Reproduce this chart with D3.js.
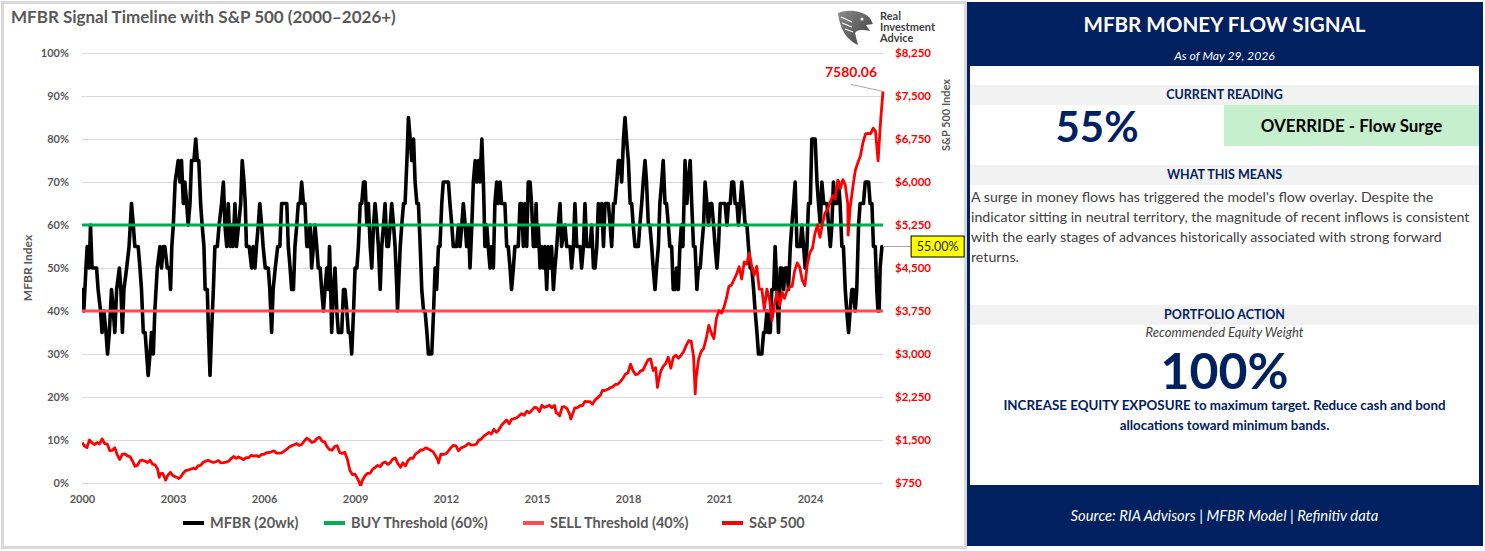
<!DOCTYPE html>
<html>
<head>
<meta charset="utf-8">
<script src="https://cdn.jsdelivr.net/npm/d3@7"></script>
<style>
  body { margin: 0; background: #fff; }
  svg { display: block; font-family: Lato, "Open Sans", sans-serif; }
</style>
</head>
<body>
<script>
// ---- data ----
const xTickYears = [2000, 2003, 2006, 2009, 2012, 2015, 2018, 2021, 2024];
const leftTicks = [0, 10, 20, 30, 40, 50, 60, 70, 80, 90, 100];
const rightTicks = [750, 1500, 2250, 3000, 3750, 4500, 5250, 6000, 6750, 7500, 8250];
const buyLevel = 60;
const sellLevel = 40;
const asOfDate = "2026-05-29";

// MFBR 20wk reading, [decimal year, %]
const mfbrPoints = [
  [2000.00,45],[2000.02,45],[2000.06,40],[2000.13,50],[2000.17,55],[2000.24,50],[2000.28,60],[2000.33,50],
  [2000.48,50],[2000.53,45],[2000.61,40],[2000.66,35],[2000.72,40],[2000.79,35],[2000.84,30],[2000.90,35],
  [2000.97,45],[2001.03,40],[2001.08,35],[2001.14,45],[2001.23,50],[2001.28,45],[2001.33,35],[2001.38,45],
  [2001.47,50],[2001.55,55],[2001.63,65],[2001.69,60],[2001.74,55],[2001.85,55],[2001.91,50],[2001.96,45],
  [2002.02,35],[2002.08,35],[2002.13,30],[2002.18,25],[2002.24,30],[2002.29,35],[2002.35,30],[2002.40,40],
  [2002.48,50],[2002.57,55],[2002.62,50],[2002.68,55],[2002.73,55],[2002.81,50],[2002.88,50],[2002.92,45],
  [2002.96,55],[2003.01,60],[2003.07,70],[2003.17,75],[2003.23,70],[2003.28,75],[2003.34,65],[2003.39,70],
  [2003.45,65],[2003.50,60],[2003.56,65],[2003.61,75],[2003.69,75],[2003.75,80],[2003.80,75],[2003.85,75],
  [2003.91,65],[2003.96,60],[2004.02,55],[2004.06,45],[2004.13,45],[2004.17,35],[2004.22,25],[2004.27,35],
  [2004.33,45],[2004.38,55],[2004.46,55],[2004.52,60],[2004.60,65],[2004.66,70],[2004.71,60],[2004.77,55],
  [2004.82,65],[2004.88,55],[2004.93,60],[2004.98,55],[2005.04,65],[2005.09,55],[2005.16,60],[2005.23,65],
  [2005.28,75],[2005.34,70],[2005.38,65],[2005.42,55],[2005.51,55],[2005.59,50],[2005.64,55],[2005.70,50],
  [2005.75,55],[2005.81,60],[2005.86,65],[2005.92,60],[2005.97,55],[2006.04,50],[2006.14,50],[2006.19,45],
  [2006.25,35],[2006.30,45],[2006.37,50],[2006.45,55],[2006.52,55],[2006.58,65],[2006.75,65],[2006.80,55],
  [2006.86,50],[2006.91,45],[2006.97,45],[2007.02,55],[2007.08,60],[2007.13,65],[2007.19,65],[2007.24,70],
  [2007.30,65],[2007.35,65],[2007.41,55],[2007.46,55],[2007.52,60],[2007.57,50],[2007.63,55],[2007.68,60],
  [2007.74,55],[2007.79,50],[2007.85,50],[2007.90,45],[2007.96,40],[2008.01,45],[2008.07,50],[2008.12,45],
  [2008.16,55],[2008.20,45],[2008.23,35],[2008.29,45],[2008.34,50],[2008.40,40],[2008.45,35],[2008.56,35],
  [2008.62,45],[2008.67,45],[2008.73,40],[2008.78,35],[2008.84,35],[2008.89,30],[2008.95,40],[2009.00,50],
  [2009.06,50],[2009.11,55],[2009.17,65],[2009.22,65],[2009.28,70],[2009.33,70],[2009.39,60],[2009.44,65],
  [2009.50,55],[2009.55,50],[2009.61,60],[2009.66,65],[2009.72,60],[2009.77,55],[2009.83,45],[2009.88,55],
  [2009.94,60],[2009.99,65],[2010.05,55],[2010.10,55],[2010.16,60],[2010.21,65],[2010.27,60],[2010.32,55],
  [2010.38,45],[2010.40,40],[2010.43,45],[2010.49,55],[2010.54,60],[2010.60,65],[2010.65,65],[2010.71,75],
  [2010.76,85],[2010.82,80],[2010.87,75],[2010.93,80],[2010.98,70],[2011.04,65],[2011.09,65],[2011.15,55],
  [2011.20,45],[2011.26,40],[2011.31,40],[2011.37,35],[2011.42,30],[2011.53,30],[2011.59,40],[2011.64,50],
  [2011.69,45],[2011.75,55],[2011.80,55],[2011.86,65],[2011.91,70],[2012.08,70],[2012.13,65],[2012.19,60],
  [2012.24,55],[2012.35,55],[2012.41,60],[2012.46,55],[2012.52,60],[2012.57,65],[2012.63,60],[2012.68,55],
  [2012.74,60],[2012.79,50],[2012.85,60],[2012.90,70],[2012.96,75],[2013.01,70],[2013.07,75],[2013.12,70],
  [2013.18,80],[2013.23,70],[2013.25,65],[2013.28,55],[2013.34,60],[2013.39,55],[2013.45,50],[2013.50,55],
  [2013.56,50],[2013.61,65],[2013.67,70],[2013.72,65],[2013.78,70],[2013.83,65],[2013.94,65],[2014.00,55],
  [2014.05,55],[2014.11,50],[2014.16,45],[2014.22,50],[2014.27,55],[2014.38,55],[2014.44,65],[2014.49,65],
  [2014.55,55],[2014.60,65],[2014.66,55],[2014.71,70],[2014.77,70],[2014.82,65],[2014.88,55],[2014.93,55],
  [2014.97,65],[2015.01,55],[2015.04,60],[2015.10,50],[2015.15,55],[2015.21,50],[2015.26,55],[2015.32,45],
  [2015.37,55],[2015.43,50],[2015.48,55],[2015.54,45],[2015.59,50],[2015.65,55],[2015.70,60],[2015.76,65],
  [2015.81,55],[2015.92,60],[2015.98,55],[2016.09,55],[2016.14,50],[2016.20,55],[2016.25,65],[2016.31,55],
  [2016.42,55],[2016.47,50],[2016.53,55],[2016.58,65],[2016.64,55],[2016.75,55],[2016.80,60],[2016.86,50],
  [2016.91,50],[2016.97,55],[2017.02,65],[2017.08,60],[2017.13,65],[2017.19,55],[2017.24,65],[2017.35,65],
  [2017.41,60],[2017.46,55],[2017.52,65],[2017.57,65],[2017.63,70],[2017.68,75],[2017.74,75],[2017.79,70],
  [2017.85,80],[2017.90,85],[2017.95,80],[2018.01,75],[2018.07,65],[2018.12,65],[2018.17,60],[2018.23,55],
  [2018.34,55],[2018.39,60],[2018.45,65],[2018.50,70],[2018.56,75],[2018.61,70],[2018.67,60],[2018.72,60],
  [2018.78,55],[2018.83,50],[2018.89,45],[2018.94,50],[2019.00,55],[2019.05,65],[2019.11,70],[2019.16,75],
  [2019.22,65],[2019.27,65],[2019.33,60],[2019.38,55],[2019.44,55],[2019.49,45],[2019.55,45],[2019.60,50],
  [2019.66,45],[2019.71,55],[2019.76,60],[2019.81,55],[2019.88,75],[2019.94,65],[2019.99,70],[2020.05,75],
  [2020.10,65],[2020.16,55],[2020.21,55],[2020.27,45],[2020.32,50],[2020.38,50],[2020.43,55],[2020.49,60],
  [2020.54,70],[2020.60,65],[2020.65,60],[2020.71,65],[2020.76,65],[2020.82,60],[2020.87,55],[2020.93,50],
  [2020.98,55],[2021.04,65],[2021.20,65],[2021.26,60],[2021.31,65],[2021.37,65],[2021.42,70],[2021.48,70],
  [2021.53,65],[2021.59,65],[2021.64,60],[2021.70,65],[2021.75,70],[2021.81,65],[2021.86,60],[2021.92,60],
  [2021.97,55],[2022.03,50],[2022.08,50],[2022.14,45],[2022.19,40],[2022.25,35],[2022.30,30],[2022.41,30],
  [2022.47,35],[2022.52,35],[2022.58,40],[2022.63,35],[2022.69,35],[2022.74,45],[2022.80,45],[2022.85,55],
  [2022.91,45],[2022.96,35],[2023.02,50],[2023.07,50],[2023.13,45],[2023.18,50],[2023.24,50],[2023.29,45],
  [2023.35,55],[2023.40,60],[2023.46,65],[2023.51,70],[2023.57,55],[2023.68,55],[2023.73,60],[2023.79,55],
  [2023.84,50],[2023.90,55],[2023.95,65],[2024.01,65],[2024.06,80],[2024.17,80],[2024.23,70],[2024.28,65],
  [2024.34,60],[2024.39,70],[2024.45,65],[2024.56,65],[2024.61,60],[2024.67,55],[2024.72,60],[2024.77,70],
  [2024.83,65],[2024.88,65],[2024.94,70],[2024.99,65],[2025.05,55],[2025.10,55],[2025.16,45],[2025.21,40],
  [2025.27,35],[2025.32,40],[2025.38,45],[2025.43,45],[2025.49,40],[2025.54,45],[2025.60,60],[2025.65,65],
  [2025.76,65],[2025.82,70],[2025.93,70],[2025.98,65],[2026.04,65],[2026.09,55],[2026.15,55],[2026.20,45],
  [2026.24,40],[2026.28,40],[2026.31,50],[2026.37,55],[2026.41,55]
];

// S&P 500 month-end closes, Jan 2000 onward
const spxMonthly = [
  1394,1366,1499,1452,1421,1455,1431,1518,1437,1429,1315,1320,
  1366,1240,1160,1249,1256,1224,1211,1134,1041,1060,1139,1148,
  1130,1107,1147,1077,1067,990,912,916,815,886,936,880,
  856,841,848,917,964,975,990,1008,996,1051,1058,1112,
  1131,1145,1126,1107,1121,1141,1102,1104,1115,1130,1174,1212,
  1181,1204,1181,1157,1192,1191,1234,1220,1229,1207,1249,1248,
  1280,1281,1295,1311,1270,1270,1277,1304,1336,1378,1401,1418,
  1438,1407,1421,1482,1531,1503,1455,1474,1527,1549,1481,1468,
  1379,1331,1323,1386,1400,1280,1267,1283,1166,969,896,903,
  826,735,798,873,919,919,987,1021,1057,1036,1096,1115,
  1074,1104,1169,1187,1089,1031,1102,1049,1141,1183,1181,1258,
  1286,1327,1326,1364,1345,1321,1292,1219,1131,1253,1247,1258,
  1312,1366,1408,1398,1310,1362,1379,1407,1441,1412,1416,1426,
  1498,1515,1569,1598,1631,1606,1686,1633,1682,1757,1806,1848,
  1783,1859,1872,1884,1924,1960,1931,2003,1972,2018,2068,2059,
  1995,2105,2068,2086,2107,2063,2104,1972,1920,2079,2080,2044,
  1940,1932,2060,2065,2097,2099,2174,2171,2168,2126,2199,2239,
  2279,2364,2363,2384,2412,2423,2470,2472,2519,2575,2648,2674,
  2824,2714,2641,2648,2705,2718,2816,2902,2914,2711,2760,2507,
  2704,2784,2834,2946,2752,2942,2980,2926,2977,3038,3141,3231,
  3226,2954,2585,2912,3044,3100,3271,3500,3363,3270,3622,3756,
  3714,3811,3973,4181,4204,4298,4395,4523,4308,4605,4567,4766,
  4516,4374,4530,4132,4132,3785,4130,3955,3586,3872,4080,3840,
  4077,3970,4109,4169,4180,4450,4589,4508,4288,4194,4568,4770,
  4846,5096,5254,5036,5278,5460,5522,5648,5762,5705,6032,5882,
  6041,5955,5612,5569,5912,6205,6339,6460,6688,6840,6849,6845,
  6940,6880,6370,7060,7580.06
];

// weekly closes at notable lows
const spxWeeklyLows = [
  ["2000-01-03", 1455], ["2002-07-19", 847], ["2002-10-04", 800], ["2003-03-07", 829],
  ["2009-03-06", 683], ["2010-07-02", 1022], ["2011-10-03", 1099], ["2015-08-21", 1971],
  ["2016-02-12", 1865], ["2018-12-21", 2417], ["2020-03-20", 2305], ["2022-09-30", 3586],
  ["2025-04-04", 5074]
];

// ---- helpers ----
const parse = d3.timeParse("%Y-%m-%d");
const yearToDate = t => {
  const y = Math.floor(t);
  const a = new Date(y, 0, 1), b = new Date(y + 1, 0, 1);
  return new Date(+a + (t - y) * (b - a));
};
const endDate = parse(asOfDate);

const mfbr = mfbrPoints.map(d => ({ date: yearToDate(d[0]), value: d[1] }));
const spx = spxMonthly.map((v, i) => {
  const dt = d3.timeDay.offset(d3.timeMonth.offset(new Date(2000, 0, 1), i + 1), -1);
  return { date: dt > endDate ? endDate : dt, value: v };
}).concat(spxWeeklyLows.map(d => ({ date: parse(d[0]), value: d[1] })))
  .sort((a, b) => a.date - b.date);

// ---- layout ----
const W = 1485, H = 551;
const plot = { left: 82, right: 883, top: 53, bottom: 483 };
const navy = "#002060", grey = "#595959";

const svg = d3.select("body").append("svg").attr("width", W).attr("height", H);

// left frame
svg.append("rect").attr("x", 2.5).attr("y", 2.5).attr("width", 963).attr("height", 545)
  .attr("fill", "#fff").attr("stroke", "#d9d9d9").attr("stroke-width", 3);

const x = d3.scaleTime().domain([new Date(2000, 0, 1), endDate]).range([plot.left, plot.right]);
const yL = d3.scaleLinear().domain([0, 100]).range([plot.bottom, plot.top]);
const yR = d3.scaleLinear().domain([750, 8250]).range([plot.bottom, plot.top]);

// gridlines
svg.append("g").attr("transform", `translate(${plot.left},0)`)
  .call(d3.axisLeft(yL).tickValues(leftTicks).tickSize(-(plot.right - plot.left)).tickFormat(""))
  .call(g => g.select(".domain").remove())
  .call(g => g.selectAll("line").attr("stroke", "#d9d9d9"));

// left axis labels
svg.append("g").attr("transform", `translate(${plot.left},0)`)
  .call(d3.axisLeft(yL).tickValues(leftTicks).tickSize(0).tickPadding(13).tickFormat(d => d + "%"))
  .call(g => g.select(".domain").remove())
  .call(g => g.selectAll("text").attr("fill", grey).attr("font-size", 11).attr("font-weight", "bold")
    .attr("font-family", "Lato, sans-serif"));

// right axis labels
svg.append("g").attr("transform", `translate(${plot.right},0)`)
  .call(d3.axisRight(yR).tickValues(rightTicks).tickSize(0).tickPadding(12)
    .tickFormat(d => "$" + d3.format(",")(d)))
  .call(g => g.select(".domain").remove())
  .call(g => g.selectAll("text").attr("fill", "#ff0000").attr("font-size", 11.5).attr("font-weight", "bold")
    .attr("font-family", "Lato, sans-serif"));

// x axis labels
svg.append("g").attr("transform", `translate(0,${plot.bottom})`)
  .call(d3.axisBottom(x).tickValues(xTickYears.map(y => new Date(y, 0, 1))).tickSize(0).tickPadding(12)
    .tickFormat(d3.timeFormat("%Y")))
  .call(g => g.select(".domain").remove())
  .call(g => g.selectAll("text").attr("fill", grey).attr("font-size", 11).attr("font-weight", "bold")
    .attr("font-family", "Lato, sans-serif"));

// axis titles
svg.append("text").attr("transform", "translate(32,268) rotate(-90)").attr("text-anchor", "middle")
  .attr("fill", grey).attr("font-size", 12).attr("font-weight", "bold").text("MFBR Index");
svg.append("text").attr("transform", "translate(950,115) rotate(-90)").attr("text-anchor", "middle")
  .attr("fill", grey).attr("font-size", 11).attr("font-weight", "bold").text("S&P 500 Index");

// title
svg.append("text").attr("x", 11).attr("y", 23).attr("fill", grey).attr("font-size", 17)
  .attr("font-weight", "bold").text("MFBR Signal Timeline with S&P 500 (2000–2026+)");

// logo
const grad = svg.append("defs").append("linearGradient").attr("id", "eagle")
  .attr("x1", 0).attr("y1", 0).attr("x2", 1).attr("y2", 1);
grad.append("stop").attr("offset", "0%").attr("stop-color", "#8c8c8c");
grad.append("stop").attr("offset", "100%").attr("stop-color", "#3a3a3a");
svg.append("path")
  .attr("d", "M838,13 C848,9 862,10 870,18 L873,24 L866,25 L870,31 C863,30 858,29 855,33 L858,45 C847,40 840,30 838,13 Z")
  .attr("fill", "url(#eagle)");
svg.append("path").attr("d", "M841,17 L852,22 M842,23 L852,27 M845,29 L853,32")
  .attr("stroke", "#fff").attr("stroke-width", 1.2);
svg.append("circle").attr("cx", 862).attr("cy", 19).attr("r", 1.5).attr("fill", "#fff");
["Real", "Investment", "Advice"].forEach((t, i) => {
  svg.append("text").attr("x", 880).attr("y", 20 + i * 11).attr("fill", "#404040")
    .attr("font-size", 11).attr("font-weight", "bold").text(t);
});

// series
const clip = svg.append("clipPath").attr("id", "plotclip");
clip.append("rect").attr("x", plot.left).attr("y", plot.top - 10).attr("width", plot.right - plot.left + 2)
  .attr("height", plot.bottom - plot.top + 13);

const lineL = d3.line().x(d => x(d.date)).y(d => yL(d.value));
const lineR = d3.line().x(d => x(d.date)).y(d => yR(d.value));

const series = svg.append("g").attr("clip-path", "url(#plotclip)");
series.append("path").datum(mfbr).attr("d", lineL).attr("fill", "none")
  .attr("stroke", "#000").attr("stroke-width", 3.6).attr("stroke-linejoin", "round");

series.append("line").attr("x1", plot.left).attr("x2", plot.right)
  .attr("y1", yL(buyLevel)).attr("y2", yL(buyLevel)).attr("stroke", "#00b050").attr("stroke-width", 3);
series.append("line").attr("x1", plot.left).attr("x2", plot.right)
  .attr("y1", yL(sellLevel)).attr("y2", yL(sellLevel)).attr("stroke", "#ff4b4b").attr("stroke-width", 3);

series.append("path").datum(spx).attr("d", lineR).attr("fill", "none")
  .attr("stroke", "#ff0000").attr("stroke-width", 2.8).attr("stroke-linejoin", "round");

// last value labels
const lastS = spx[spx.length - 1];
const sx = x(lastS.date), sy = yR(lastS.value);
svg.append("line").attr("x1", sx - 32).attr("y1", sy - 7).attr("x2", sx).attr("y2", sy)
  .attr("stroke", "#a6a6a6").attr("stroke-width", 1);
svg.append("text").attr("x", sx - 32).attr("y", sy - 14.5).attr("text-anchor", "middle")
  .attr("fill", "#ff0000").attr("font-size", 14).attr("font-weight", "bold").text(lastS.value.toFixed(2));

const lastM = mfbr[mfbr.length - 1];
const mx = x(lastM.date), my = yL(lastM.value);
svg.append("line").attr("x1", mx).attr("y1", my).attr("x2", mx + 28).attr("y2", my)
  .attr("stroke", "#a6a6a6").attr("stroke-width", 1);
svg.append("rect").attr("x", mx + 28).attr("y", my - 10.5).attr("width", 53).attr("height", 21)
  .attr("fill", "#ffff00").attr("stroke", "#000").attr("stroke-width", 1);
svg.append("text").attr("x", mx + 54.5).attr("y", my).attr("dy", "0.35em").attr("text-anchor", "middle")
  .attr("fill", "#262626").attr("font-size", 12.5).text(d3.format(".2f")(lastM.value) + "%");

// legend
const legendItems = [
  { label: "MFBR (20wk)", color: "#000", x: 183 },
  { label: "BUY Threshold (60%)", color: "#00b050", x: 324 },
  { label: "SELL Threshold (40%)", color: "#ff4b4b", x: 523 },
  { label: "S&P 500", color: "#ff0000", x: 722 }
];
const lg = svg.append("g").selectAll("g").data(legendItems).join("g")
  .attr("transform", d => `translate(${d.x},523)`);
lg.append("line").attr("x1", 0).attr("x2", 21).attr("stroke", d => d.color).attr("stroke-width", 4);
lg.append("text").attr("x", 27).attr("dy", "0.35em").attr("fill", grey).attr("font-size", 14.5)
  .attr("font-weight", "bold").text(d => d.label);

// ---- right panel ----
const P = { x0: 970, x1: 1479 };
const cx = (P.x0 + P.x1) / 2;
svg.append("rect").attr("x", 967).attr("y", 2).attr("width", 516).attr("height", 544).attr("fill", navy);
svg.append("rect").attr("x", P.x0).attr("y", 66).attr("width", P.x1 - P.x0).attr("height", 419).attr("fill", "#fff");

const bands = [
  { y: 85, label: "CURRENT READING" },
  { y: 165, label: "WHAT THIS MEANS" },
  { y: 305, label: "PORTFOLIO ACTION" }
];
bands.forEach(b => {
  svg.append("rect").attr("x", P.x0).attr("y", b.y).attr("width", P.x1 - P.x0).attr("height", 20).attr("fill", "#f2f2f2");
  svg.append("text").attr("x", cx).attr("y", b.y + 10).attr("dy", "0.35em").attr("text-anchor", "middle")
    .attr("fill", navy).attr("font-size", 12.5).attr("font-weight", "bold").text(b.label);
});

svg.append("text").attr("x", cx).attr("y", 25).attr("dy", "0.35em").attr("text-anchor", "middle")
  .attr("fill", "#fff").attr("font-size", 20.6).attr("font-weight", "bold").text("MFBR MONEY FLOW SIGNAL");
svg.append("text").attr("x", cx).attr("y", 56).attr("dy", "0.35em").attr("text-anchor", "middle")
  .attr("fill", "#fff").attr("font-size", 12.2).attr("font-style", "italic").text("As of May 29, 2026");

svg.append("text").attr("x", 1097).attr("y", 127).attr("dy", "0.35em").attr("text-anchor", "middle")
  .attr("fill", navy).attr("font-size", 42).attr("font-weight", "bold").text(lastM.value + "%");
svg.append("rect").attr("x", 1224).attr("y", 105).attr("width", P.x1 - 1224).attr("height", 41).attr("fill", "#c6efce");
svg.append("text").attr("x", (1224 + P.x1) / 2).attr("y", 126).attr("dy", "0.35em").attr("text-anchor", "middle")
  .attr("fill", "#000").attr("font-size", 16.9).attr("font-weight", "bold").text("OVERRIDE - Flow Surge");

const meaningLines = [
  "A surge in money flows has triggered the model's flow overlay. Despite the",
  "indicator sitting in neutral territory, the magnitude of recent inflows is consistent",
  "with the early stages of advances historically associated with strong forward",
  "returns."
];
meaningLines.forEach((t, i) => {
  svg.append("text").attr("x", 971).attr("y", 197 + i * 20).attr("dy", "0.35em")
    .attr("fill", "#404040").attr("font-size", 14.2).text(t);
});

svg.append("text").attr("x", cx).attr("y", 332).attr("dy", "0.35em").attr("text-anchor", "middle")
  .attr("fill", "#404040").attr("font-size", 13).attr("font-style", "italic").text("Recommended Equity Weight");
svg.append("text").attr("x", cx).attr("y", 389).attr("text-anchor", "middle")
  .attr("fill", navy).attr("font-size", 50).attr("font-weight", "bold").text("100%");

const actionLines = [
  "INCREASE EQUITY EXPOSURE to maximum target. Reduce cash and bond",
  "allocations toward minimum bands."
];
actionLines.forEach((t, i) => {
  svg.append("text").attr("x", cx).attr("y", 405 + i * 20).attr("dy", "0.35em").attr("text-anchor", "middle")
    .attr("fill", navy).attr("font-size", 13.35).attr("font-weight", "bold").text(t);
});

svg.append("text").attr("x", cx).attr("y", 516).attr("dy", "0.35em").attr("text-anchor", "middle")
  .attr("fill", "#fff").attr("font-size", 14.8).attr("font-style", "italic")
  .text("Source: RIA Advisors | MFBR Model | Refinitiv data");
</script>
</body>
</html>
